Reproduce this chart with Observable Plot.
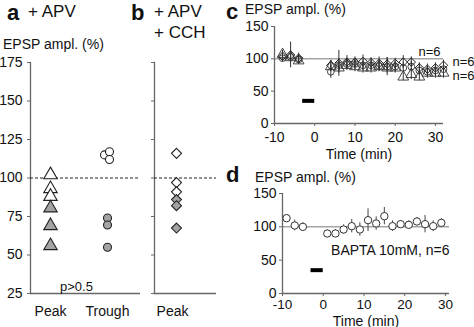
<!DOCTYPE html>
<html><head><meta charset="utf-8">
<script src="https://cdn.jsdelivr.net/npm/d3@7"></script>
<script src="https://cdn.jsdelivr.net/npm/@observablehq/plot@0.6"></script>
<style>
body{margin:0;background:#fff;}
#wrap{position:relative;width:474px;height:327px;overflow:hidden;font-family:"Liberation Sans",Arial,sans-serif;color:#111;}
#wrap svg{position:absolute;}
.t{position:absolute;white-space:nowrap;line-height:1;}
.L{font-weight:bold;font-size:22px;}
.s{font-size:17px;}
.y{font-size:14px;}
</style></head><body>
<div id="wrap">
  <div class="t L" style="left:7px;top:2px">a</div>
  <div class="t s" style="left:28px;top:3px">+ APV</div>
  <div class="t y" style="left:3px;top:37px">EPSP ampl. (%)</div>
  <div class="t L" style="left:131px;top:2px">b</div>
  <div class="t s" style="left:154px;top:3px">+ APV</div>
  <div class="t s" style="left:154px;top:24px">+ CCH</div>
  <div class="t L" style="left:226px;top:1px">c</div>
  <div class="t y" style="left:245px;top:2px">EPSP ampl. (%)</div>
  <div class="t L" style="left:226px;top:164px">d</div>
  <div class="t y" style="left:255px;top:170px">EPSP ampl. (%)</div>
</div>
<script>
// ---- Panel a data ----
const catsA = ["Peak", "Trough"];
const peakAValues = [102, 93, 88, 80.5, 69, 56];
const peakAFilled = [false, false, false, true, true, true];
const troughAValues = [115, 117, 112, 74, 69.5, 55];
const troughAFilled = [false, false, false, true, true, true];
const troughAJitter = [-3, 2, 2, 0, 0, 0];
const yTicksAB = [25, 50, 75, 100, 125, 150, 175];
const pLabel = "p>0.5";

// ---- Panel b data ----
const catsB = ["Peak"];
const peakBValues = [116, 97, 91, 86, 82, 67.5];
const peakBFilled = [false, false, false, true, true, true];

// ---- Panel c data ----
const timesC = [-8, -6, -4, 4, 6, 8, 10, 12, 14, 16, 18, 20, 22, 24, 26, 28, 30, 32];
const diamondC = [104, 106, 101, 90, 93, 95, 95, 96, 94, 93, 92, 93, 95, 95, 86, 84, 86, 90];
const diamondCErr = [8, 20, 8, 8, 20, 10, 8, 10, 8, 10, 10, 8, 10, 8, 8, 8, 8, 8];
const circleC = [101, 103, 99, 80, 90, 92, 92, 90, 90, 89, 88, 88, 86, 88, 82, 80, 82, 84];
const circleCErr = [6, 8, 6, 10, 10, 8, 8, 8, 8, 8, 14, 8, 8, 8, 8, 8, 8, 8];
const triangleC = [107, 102, 97, 88, 86, 90, 88, 86, 86, 88, 86, 86, 72, 76, 72, 78, 78, 78];
const triangleCErr = [6, 6, 6, 8, 8, 8, 8, 8, 8, 8, 8, 8, 6, 8, 6, 8, 8, 8];
const nLabelsC = ["n=6", "n=6", "n=6"];

// ---- Panel d data ----
const timesD = [-9, -7, -5, 1, 3, 5, 7, 9, 11, 13, 15, 17, 19, 21, 23, 25, 27, 29];
const valuesD = [113, 102, 100, 90, 90, 96, 101, 96, 110, 105, 116, 101, 104, 103, 108, 104, 101, 106];
const errD = [5, 8, 6, 5, 6, 7, 10, 10, 17, 10, 13, 8, 5, 6, 6, 13, 8, 6];
const labelD = "BAPTA 10mM, n=6";

// ---- shared ----
const yTicksCD = [0, 50, 100, 150];
const xTicksCD = [-10, 0, 10, 20, 30];
const stim = [{t1: -3, t2: 0, level: 35}];
const baseline = 100;
const timeLabel = "Time (min)";

const FONT = {fontFamily: "Liberation Sans, Arial, sans-serif", fontSize: "14px", color: "#111", background: "transparent", overflow: "visible"};
const AX = "#666";
const GRAYFILL = "#a3a3a3";
const wrap = document.getElementById("wrap");
function place(svg, left, top) { svg.style.left = left + "px"; svg.style.top = top + "px"; wrap.appendChild(svg); }
const hyphen = d => String(d);

// Panel a
const rowsPeakA = peakAValues.map((v, i) => ({cat: "Peak", v, filled: peakAFilled[i]}));
const rowsTroughA = troughAValues.map((v, i) => ({cat: "Trough", v, filled: troughAFilled[i], j: troughAJitter[i]}));
const jitterGroups = [...new Set(troughAJitter)];
const plotA = Plot.plot({
  width: 145, height: 327, marginLeft: 30, marginRight: 5, marginTop: 62, marginBottom: 34,
  style: FONT,
  x: {type: "point", domain: catsA, range: [50, 107], padding: 0},
  y: {domain: [25, 175]},
  marks: [
    Plot.ruleY([25], {stroke: AX, strokeWidth: 1.3}),
    Plot.frame({anchor: "left", stroke: AX, strokeWidth: 1.3}),
    Plot.ruleY([baseline], {stroke: "#222", strokeDasharray: "3,2"}),
    Plot.axisY({ticks: yTicksAB, tickSize: 3, tickPadding: 5, stroke: AX, fill: "#111", label: null, fontSize: 14}),
    Plot.axisX({tickSize: 0, tickPadding: 13, label: null, fontSize: 14, fill: "#111"}),
    Plot.dot(rowsPeakA, {x: "cat", y: "v", symbol: "triangle", r: 5, fill: d => d.filled ? GRAYFILL : "white", stroke: "#222", strokeWidth: 1.1}),
    ...jitterGroups.map(j => Plot.dot(rowsTroughA.filter(d => d.j === j), {x: "cat", y: "v", dx: j, r: 4, fill: d => d.filled ? GRAYFILL : "white", stroke: "#222", strokeWidth: 1.1})),
    Plot.text([pLabel], {frameAnchor: "bottom-left", dx: 46, dy: -3, fontSize: 13, fill: "#111", textAnchor: "middle"})
  ]
});
place(plotA, 0, 0);

// Panel b
const plotB = Plot.plot({
  width: 96, height: 327, marginLeft: 30, marginRight: 4, marginTop: 62, marginBottom: 34,
  style: FONT,
  x: {type: "point", domain: catsB, range: [52, 52], padding: 0},
  y: {domain: [25, 175]},
  marks: [
    Plot.ruleY([25], {stroke: AX, strokeWidth: 1.3}),
    Plot.frame({anchor: "left", stroke: AX, strokeWidth: 1.3}),
    Plot.ruleY([baseline], {stroke: "#222", strokeDasharray: "3,2"}),
    Plot.axisY({ticks: yTicksAB, tickSize: 3, tickFormat: () => "", stroke: AX, label: null}),
    Plot.axisX({tickSize: 0, tickPadding: 13, label: null, fontSize: 14, fill: "#111", dx: -4}),
    Plot.dot(peakBValues.map((v, i) => ({cat: "Peak", v, filled: peakBFilled[i]})), {x: "cat", y: "v", symbol: "diamond2", r: 4.5, fill: d => d.filled ? GRAYFILL : "white", stroke: "#222", strokeWidth: 1.1})
  ]
});
place(plotB, 124, 0);

// Panel c
const seriesC = [
  {name: "diamond", vals: diamondC, err: diamondCErr},
  {name: "circle", vals: circleC, err: circleCErr},
  {name: "triangle", vals: triangleC, err: triangleCErr}
];
const rowsC = seriesC.flatMap(s => timesC.map((t, i) => ({sym: s.name, t, v: s.vals[i], e: s.err[i]})));
const plotC = Plot.plot({
  width: 249, height: 160, marginLeft: 49, marginRight: 31, marginTop: 26, marginBottom: 37,
  style: FONT,
  x: {domain: [-10, 32]},
  y: {domain: [0, 150]},
  marks: [
    Plot.ruleY([0], {stroke: AX, strokeWidth: 1.3}),
    Plot.ruleX([-10], {stroke: AX, strokeWidth: 1.3}),
    Plot.ruleY([baseline], {stroke: "#777", strokeWidth: 1}),
    Plot.axisY({ticks: yTicksCD, tickSize: 3, tickPadding: 3, stroke: AX, fill: "#111", label: null, fontSize: 14}),
    Plot.axisX({ticks: xTicksCD, tickFormat: hyphen, tickSize: 3, tickPadding: 6, stroke: AX, fill: "#111", label: timeLabel, labelAnchor: "center", labelArrow: "none", labelOffset: 35, fontSize: 14}),
    Plot.ruleY(stim, {y: "level", x1: "t1", x2: "t2", stroke: "#000", strokeWidth: 4}),
    Plot.ruleX(rowsC, {x: "t", y1: d => d.v - d.e, y2: d => d.v + d.e, stroke: "#333", strokeWidth: 1}),
    Plot.dot(rowsC.filter(d => d.sym === "triangle"), {x: "t", y: "v", symbol: "triangle", r: 4, fill: "none", stroke: "#333", strokeWidth: 0.9}),
    Plot.dot(rowsC.filter(d => d.sym === "circle"), {x: "t", y: "v", r: 3.4, fill: "none", stroke: "#333", strokeWidth: 0.9}),
    Plot.dot(rowsC.filter(d => d.sym === "diamond"), {x: "t", y: "v", symbol: "diamond2", r: 3.8, fill: "none", stroke: "#222", strokeWidth: 1}),
    Plot.text([nLabelsC[0]], {frameAnchor: "top-right", dx: -14, dy: 20, fontSize: 13, fill: "#111", textAnchor: "middle"}),
    Plot.text([nLabelsC[1]], {frameAnchor: "top-right", dx: 31, dy: 30, fontSize: 13, fill: "#111", textAnchor: "end"}),
    Plot.text([nLabelsC[2]], {frameAnchor: "top-right", dx: 31, dy: 44, fontSize: 13, fill: "#111", textAnchor: "end"})
  ]
});
place(plotC, 225, 0);

// Panel d
const rowsD = timesD.map((t, i) => ({t, v: valuesD[i], e: errD[i]}));
const plotD = Plot.plot({
  width: 249, height: 167, marginLeft: 57, marginRight: 25, marginTop: 33, marginBottom: 34,
  style: FONT,
  x: {domain: [-10, 31]},
  y: {domain: [0, 150]},
  marks: [
    Plot.ruleY([0], {stroke: AX, strokeWidth: 1.3}),
    Plot.ruleX([-10], {stroke: AX, strokeWidth: 1.3}),
    Plot.ruleY([baseline], {stroke: "#777", strokeWidth: 1}),
    Plot.axisY({ticks: yTicksCD, tickSize: 3, tickPadding: 3, stroke: AX, fill: "#111", label: null, fontSize: 14}),
    Plot.axisX({ticks: xTicksCD, tickFormat: hyphen, tickSize: 3, tickPadding: 3, stroke: AX, fill: "#111", label: null, fontSize: 13.5}),
    Plot.axisX({ticks: [], tickSize: 0, label: timeLabel, labelAnchor: "center", labelArrow: "none", labelOffset: 32, fontSize: 14, fill: "#111"}),
    Plot.ruleY(stim, {y: "level", x1: "t1", x2: "t2", stroke: "#000", strokeWidth: 4}),
    Plot.ruleX(rowsD, {x: "t", y1: d => d.v - d.e, y2: d => d.v + d.e, stroke: "#444", strokeWidth: 1}),
    Plot.dot(rowsD, {x: "t", y: "v", r: 3.7, fill: "white", stroke: "#333", strokeWidth: 1}),
    Plot.text([labelD], {frameAnchor: "top-right", dx: 0, dy: 52, fontSize: 14, fill: "#111", textAnchor: "end"})
  ]
});
place(plotD, 225, 160);
</script>
</body></html>
